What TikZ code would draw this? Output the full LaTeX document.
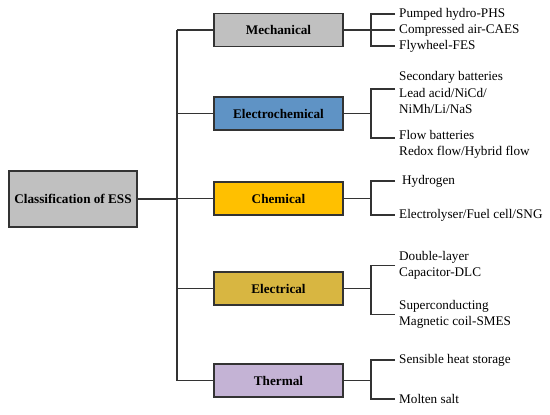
\documentclass[tikz,border=0pt]{standalone}
\usepackage{fontspec}
\setmainfont{Liberation Serif}
\usetikzlibrary{calc}
\definecolor{lineC}{HTML}{333333}
\definecolor{grayC}{HTML}{C0C0C0}
\definecolor{blueC}{HTML}{5F93C5}
\definecolor{yellowC}{HTML}{FFC000}
\definecolor{goldC}{HTML}{D8B641}
\definecolor{lilacC}{HTML}{C4B3D5}
\tikzset{
  catbox/.style={draw=lineC, line width=1.5pt, minimum width=129pt, minimum height=33pt,
     inner sep=0pt, font=\fontsize{13.2}{16}\selectfont\bfseries},
  rootbox/.style={draw=lineC, line width=1.5pt, fill=grayC, minimum width=128pt, minimum height=56pt,
     inner sep=0pt, font=\fontsize{13.2}{16}\selectfont\bfseries},
  leaf/.style={anchor=west, inner xsep=4pt, inner ysep=0pt, align=left,
     font=\fontsize{13.2}{16.5}\selectfont},
  conn/.style={draw=lineC, line width=1.4pt}
}
\begin{document}
\begin{tikzpicture}[x=1pt,y=-1pt]
\useasboundingbox (0,0) rectangle (550,415);
% root
\node[rootbox] (root) at (73,199) {Classification of ESS};
% categories
\node[catbox, fill=grayC] (mech) at (278.5,30) {Mechanical};
\node[catbox, fill=blueC] (echem) at (278.5,113.5) {Electrochemical};
\node[catbox, fill=yellowC] (chem) at (278.5,198.5) {Chemical};
\node[catbox, fill=goldC] (elec) at (278.5,288.5) {Electrical};
\node[catbox, fill=lilacC] (therm) at (278.5,380.5) {Thermal};
% trunk
\coordinate (tTop) at (177,30);
\coordinate (tBot) at (177,380.5);
\coordinate (tRoot) at (177,199);
\draw[conn] (tTop) -- (tBot);
\draw[conn] (root.east) -- (tRoot);
\foreach \n in {mech,echem,chem,elec,therm}{
  \draw[conn] (\n.west) -- (\n.west -| tTop);
}
% leaves
\node[leaf] (m1) at (395,14) {Pumped hydro-PHS};
\node[leaf] (m2) at (395,30) {Compressed air-CAES};
\node[leaf] (m3) at (395,46) {Flywheel-FES};
\node[leaf] (e1) at (395,92.5) {Secondary batteries\\Lead acid/NiCd/\\NiMh/Li/NaS};
\node[leaf] (e2) at (395,144.5) {Flow batteries\\Redox flow/Hybrid flow};
\node[leaf] (c1) at (395,181) {\hspace{3pt}Hydrogen};
\node[leaf] (c2) at (395,215) {Electrolyser/Fuel cell/SNG};
\node[leaf] (d1) at (395,265.5) {Double-layer\\Capacitor-DLC};
\node[leaf] (d2) at (395,314.5) {Superconducting\\Magnetic coil-SMES};
\node[leaf] (h1) at (395,360) {Sensible heat storage};
\node[leaf] (h2) at (395,399) {Molten salt};
% brackets
\coordinate (bm) at (371,30);
\coordinate (be) at (371,113.5);
\coordinate (bc) at (371,198.5);
\coordinate (bd) at (371,288.5);
\coordinate (bh) at (371,380.5);
\draw[conn] (mech.east) -- (bm);
\draw[conn] (m1.west) -| (bm) |- (m3.west);
\draw[conn] (bm) -- (m2.west);
\draw[conn] (echem.east) -- (be);
\draw[conn] ([yshift=3.5pt]e1.west) -| (be) |- ([yshift=6.5pt]e2.west);
\draw[conn] (chem.east) -- (bc);
\draw[conn] (c1.west) -| (bc) |- (c2.west);
\draw[conn] (elec.east) -- (bd);
\draw[conn] (d1.west) -| (bd) |- (d2.west);
\draw[conn] (therm.east) -- (bh);
\draw[conn] (h1.west) -| (bh) |- (h2.west);
\end{tikzpicture}
\end{document}
